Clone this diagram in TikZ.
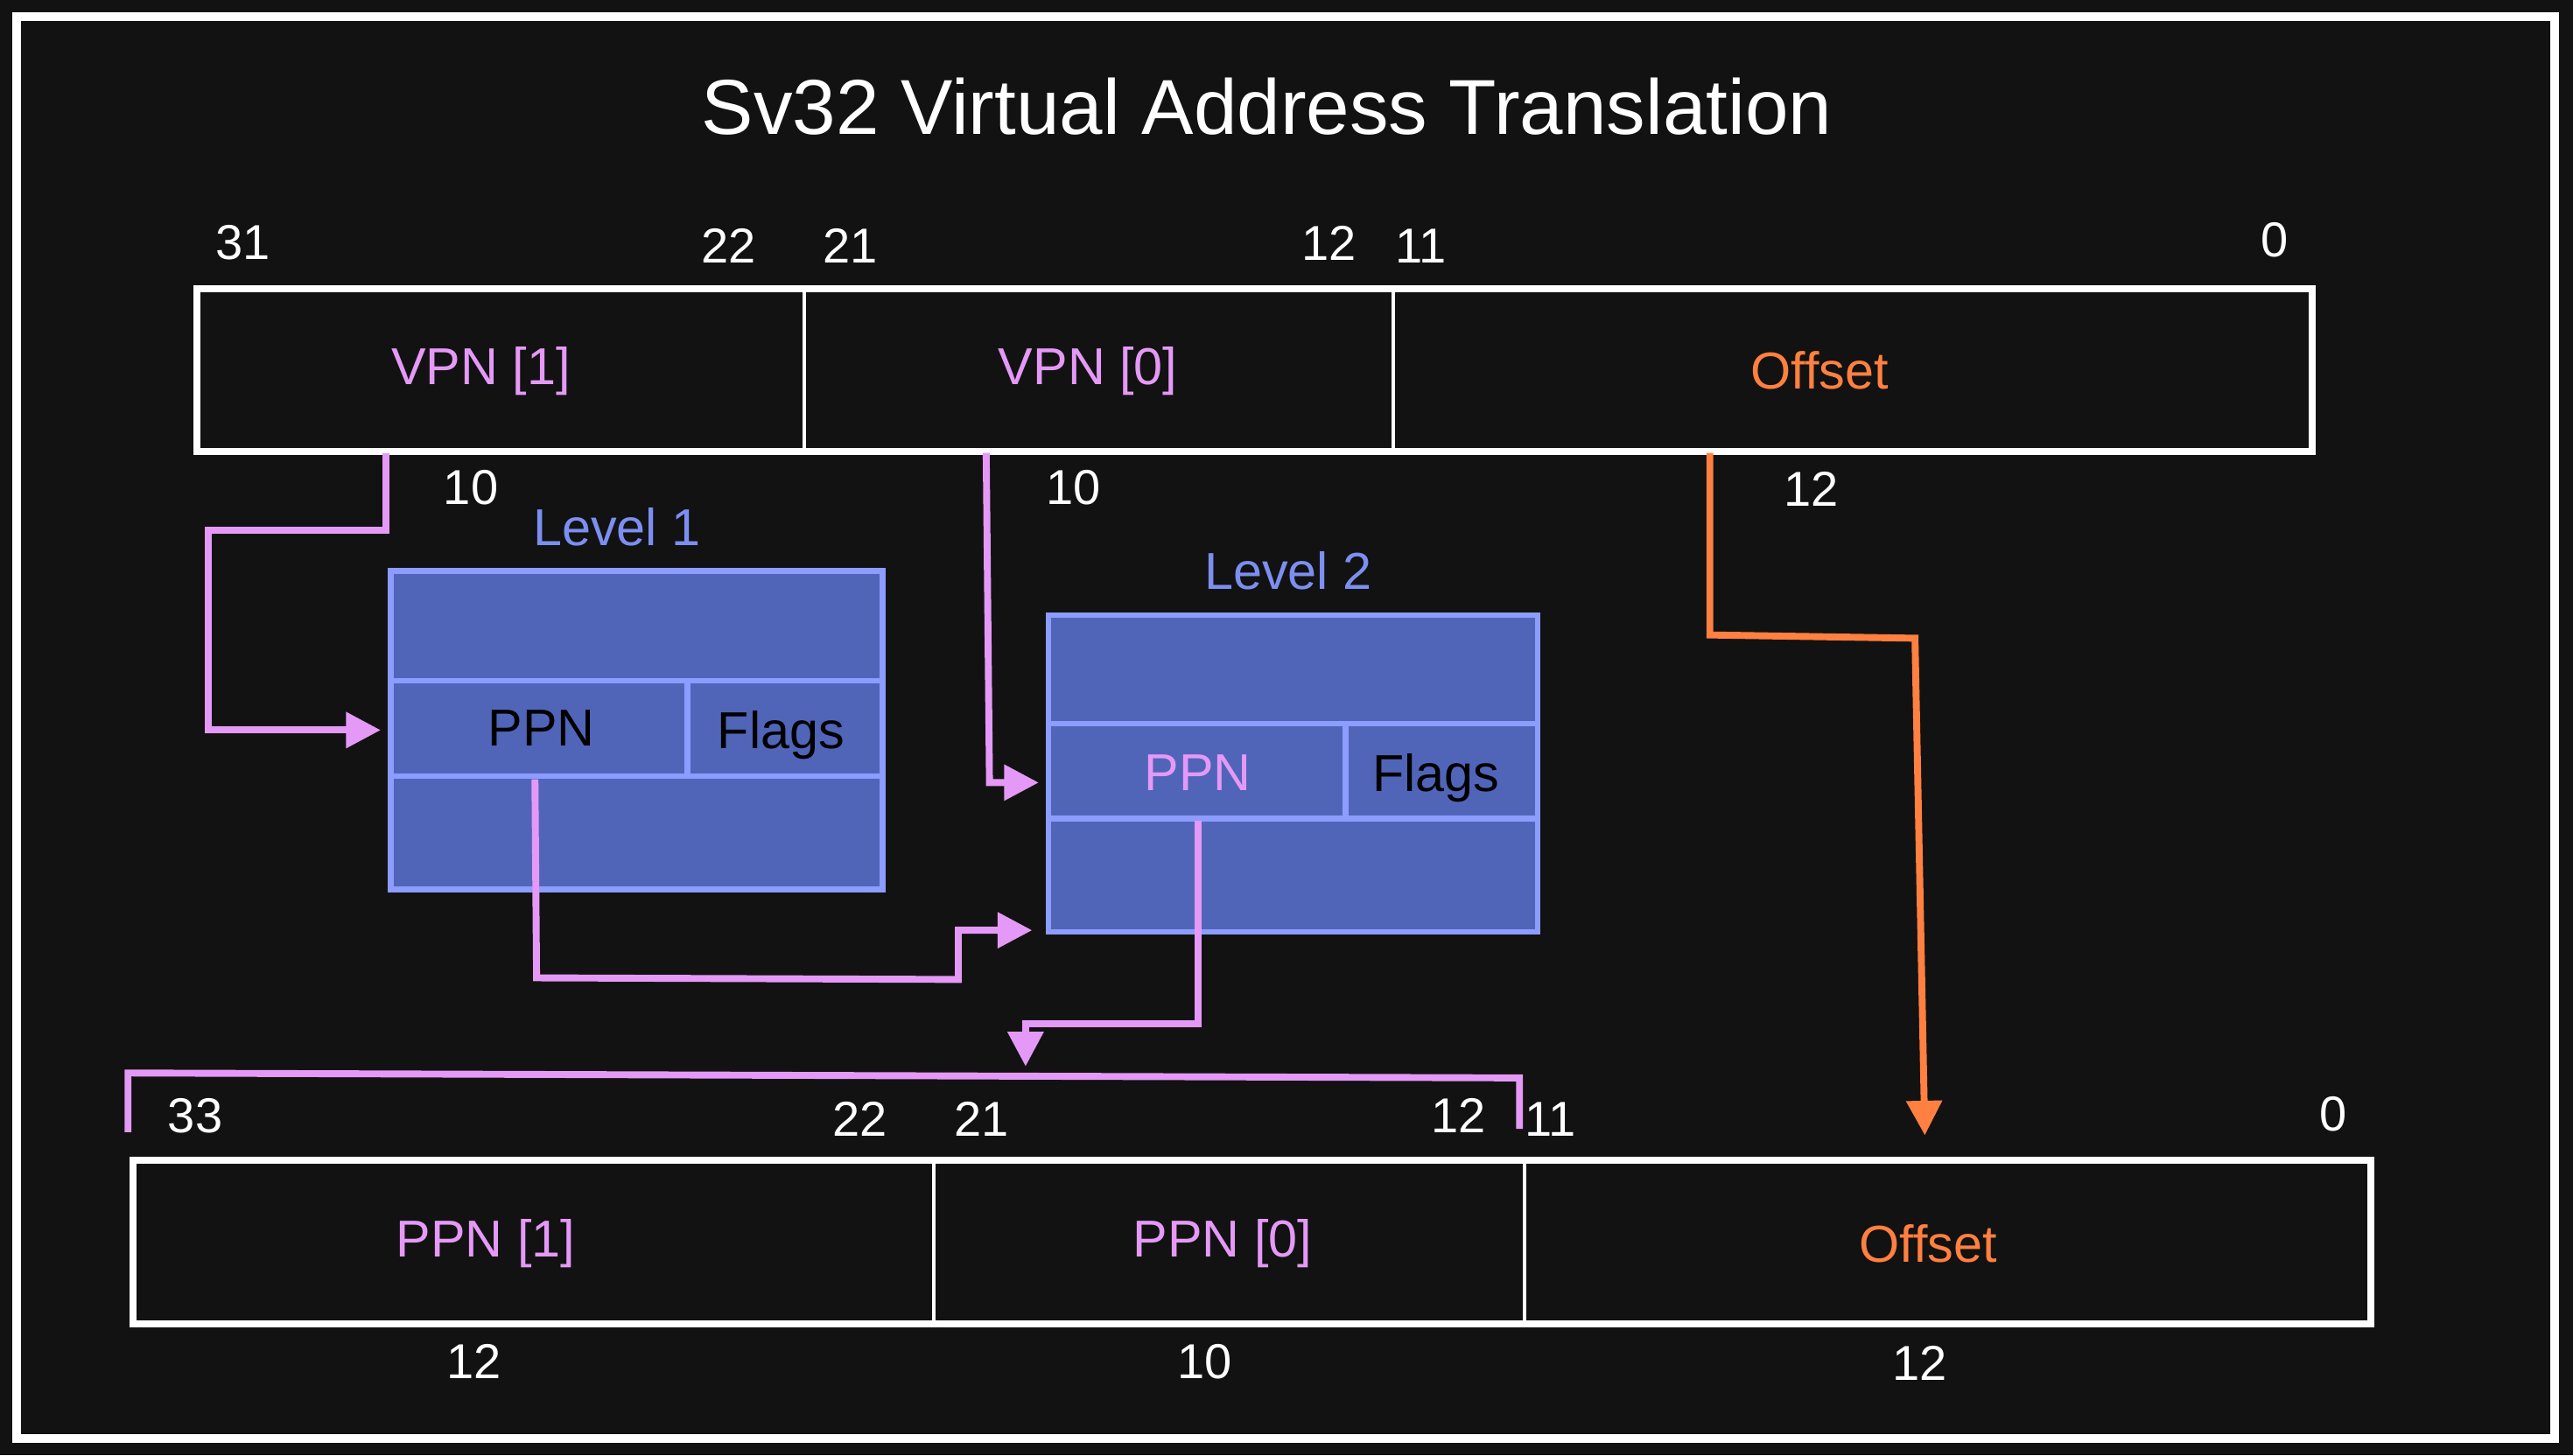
\documentclass[tikz,border=0pt]{standalone}
\usepackage{fontspec}
\setmainfont{Liberation Sans}
\usetikzlibrary{arrows.meta}
\definecolor{bg}{HTML}{121212}
\definecolor{vio}{HTML}{E599F7}
\definecolor{org}{HTML}{FF8040}
\definecolor{lblue}{HTML}{8C9CFF}
\definecolor{tfill}{HTML}{5065B8}
\definecolor{lvl}{HTML}{7C8FF0}
\tikzset{
  reg/.style={draw=white,line width=1.2pt},
  sep/.style={draw=white,line width=0.6pt},
  bits/.style={text=white,font=\fontsize{8.5}{10}\selectfont},
  fld/.style={font=\fontsize{9}{11}\selectfont},
  tbl/.style={draw=lblue,fill=tfill,line width=1pt},
  varr/.style={draw=vio,line width=1.2pt,-{Triangle[length=6pt,width=6pt]}},
  oarr/.style={draw=org,line width=1.2pt,-{Triangle[length=6pt,width=6pt]}},
}
\begin{document}
\begin{tikzpicture}[x=0.01cm,y=-0.01cm]
\fill[bg] (0,0) rectangle (1568,887);
\useasboundingbox (0,0) rectangle (1568,887);
\draw[white,line width=1.5pt] (10,10) rectangle (1557,877);
\node[text=white,font=\fontsize{13.5}{16}\selectfont] (title) at (772,65) {Sv32 Virtual Address Translation};
% top register
\draw[reg] (120,176) rectangle (1409,275);
\draw[sep] (490,176) -- (490,275);
\draw[sep] (849,176) -- (849,275);
\node[fld,text=vio] (vpn1) at (293,226) {VPN [1]};
\node[fld,text=vio] (vpn0) at (663,226) {VPN [0]};
\node[fld,text=org] (voff) at (1109,226) {Offset};
\foreach \n/\x/\y/\t in {a/148/148/31,b/444/150/22,c/518/150/21,d/810/148/12,e/866/150/11,f/1386/146/0,g/287/297/10,h/654/297/10,i/1104/298/12}
  \node[bits] (t\n) at (\x,\y) {\t};
% level 1
\node[text=lvl,font=\fontsize{9}{11}\selectfont] (l1) at (376,321) {Level 1};
\draw[tbl] (238,348) rectangle (538,542);
\draw[lblue,line width=1pt] (238,415) -- (538,415) (238,473) -- (538,473) (419,415) -- (419,473);
\node[fld,text=black] (ppnA) at (330,444) {PPN};
\node[fld,text=black] (flA) at (476,448) {Flags};
% level 2
\node[text=lvl,font=\fontsize{9}{11}\selectfont] (l2) at (785,348) {Level 2};
\draw[tbl] (639,375) rectangle (937,568);
\draw[lblue,line width=1pt] (639,441) -- (937,441) (639,499) -- (937,499) (820,441) -- (820,499);
\node[fld,text=vio] (ppnB) at (730,471) {PPN};
\node[fld,text=black] (flB) at (875,474) {Flags};
% arrows
\coordinate (a1) at (235,276);
\coordinate (a1e) at (232,445);
\draw[varr] (a1) -- (235,323) -- (127,323) -- (127,445) -- (a1e);
\coordinate (a2) at (601,276);
\coordinate (a2e) at (633,477);
\draw[varr] (a2) -- (603,477) -- (a2e);
\coordinate (a3) at (326,475);
\coordinate (a3e) at (629,567);
\draw[varr] (a3) -- (327,596) -- (584,597) -- (584,567) -- (a3e);
\coordinate (a4) at (730,500);
\coordinate (a4e) at (625,650);
\draw[varr] (a4) -- (730,624) -- (625,624) -- (a4e);
\draw[vio,line width=1.2pt] (78,690) -- (78,654) -- (926,657) -- (926,688);
\coordinate (o1) at (1042,276);
\coordinate (o1e) at (1173,692);
\draw[oarr] (o1) -- (1042,387) -- (1167,389) -- (o1e);
% bottom register
\draw[reg] (81,707) rectangle (1445,807);
\draw[sep] (569,707) -- (569,807);
\draw[sep] (929,707) -- (929,807);
\node[fld,text=vio] (ppn1) at (296,758) {PPN [1]};
\node[fld,text=vio] (ppn0) at (745,758) {PPN [0]};
\node[fld,text=org] (poff) at (1175,758) {Offset};
\foreach \n/\x/\y/\t in {a/119/680/33,b/524/682/22,c/598/682/21,d/889/680/12,e/945/682/11,f/1422/679/0,g/289/830/12,h/734/830/10,i/1170/831/12}
  \node[bits] (b\n) at (\x,\y) {\t};
\end{tikzpicture}
\end{document}
